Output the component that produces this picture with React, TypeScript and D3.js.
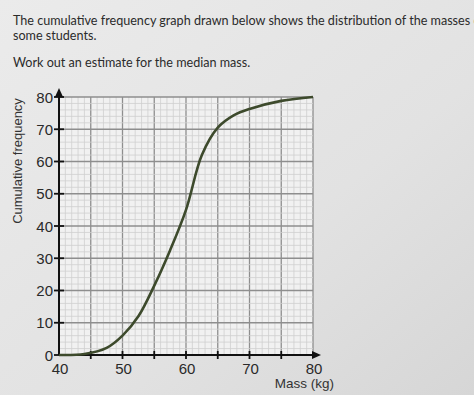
import React, { useEffect, useRef } from 'react';
import * as d3 from 'd3';

// cumulative frequency
const masses = [40, 44, 47.5, 50, 52.5, 55, 57.5, 60, 62.5, 65, 67.5, 70, 75, 80];
const cumFreq = [0, 0.3, 2.2, 6, 12, 21.5, 32.5, 45, 62, 70.5, 74.3, 76.3, 78.8, 80];
const xTicks = [40, 50, 60, 70, 80];
const yTicks = [0, 10, 20, 30, 40, 50, 60, 70, 80];

const questionLines = [
  'The cumulative frequency graph drawn below shows the distribution of the masses of',
  'some students.',
];
const questionAsk = 'Work out an estimate for the median mass.';

const W = 474;
const H = 395;

export default function App() {
  const ref = useRef<SVGSVGElement>(null);

  useEffect(() => {
    const svg = d3.select(ref.current);
    svg.selectAll('*').remove();

    const defs = svg.append('defs');
    const grad = defs.append('linearGradient').attr('id', 'bg').attr('x1', 0).attr('y1', 0).attr('x2', 1).attr('y2', 1);
    grad.append('stop').attr('offset', '0%').attr('stop-color', '#ebebeb');
    grad.append('stop').attr('offset', '60%').attr('stop-color', '#e2e2e2');
    grad.append('stop').attr('offset', '100%').attr('stop-color', '#d6d6d6');

    svg.append('rect').attr('width', W).attr('height', H).attr('fill', 'url(#bg)');

    const x = d3.scaleLinear().domain([40, 80]).range([59, 313]);
    const y = d3.scaleLinear().domain([0, 80]).range([355, 97]);

    // grid paper
    svg.append('rect')
      .attr('x', x(40)).attr('y', y(80))
      .attr('width', x(80) - x(40)).attr('height', y(0) - y(80))
      .attr('fill', '#f1f1f1');

    const g = svg.append('g');
    d3.range(40, 80.01, 1).forEach(v => {
      const major = v % 5 === 0;
      g.append('line')
        .attr('x1', x(v)).attr('x2', x(v)).attr('y1', y(0)).attr('y2', y(80))
        .attr('stroke', major ? '#8e8e8e' : '#cfcfcf')
        .attr('stroke-width', major ? 1.3 : 0.8);
    });
    d3.range(0, 80.01, 2).forEach(v => {
      const major = v % 10 === 0;
      g.append('line')
        .attr('x1', x(40)).attr('x2', x(80)).attr('y1', y(v)).attr('y2', y(v))
        .attr('stroke', major ? '#8e8e8e' : '#cfcfcf')
        .attr('stroke-width', major ? 1.3 : 0.8);
    });

    // axes with arrows
    svg.append('line').attr('x1', x(40)).attr('x2', x(40)).attr('y1', y(0)).attr('y2', y(80) - 3)
      .attr('stroke', '#111').attr('stroke-width', 2);
    svg.append('path')
      .attr('d', `M${x(40)},${y(80) - 9} l-4,9 l8,0 z`).attr('fill', '#111');
    svg.append('line').attr('x1', x(40)).attr('x2', x(80) + 3).attr('y1', y(0)).attr('y2', y(0))
      .attr('stroke', '#111').attr('stroke-width', 2);
    svg.append('path')
      .attr('d', `M${x(80) + 8},${y(0)} l-9,-4 l0,8 z`).attr('fill', '#111');

    // ticks
    yTicks.forEach(v => {
      svg.append('line').attr('x1', x(40) - 5).attr('x2', x(40) + 5).attr('y1', y(v)).attr('y2', y(v))
        .attr('stroke', '#111').attr('stroke-width', 1.8);
      svg.append('text').attr('x', x(40) - 6).attr('y', y(v) + 5.5)
        .attr('text-anchor', 'end').attr('font-family', 'Liberation Sans, Arial, sans-serif')
        .attr('font-size', 15).attr('fill', '#2a2a2a').text(v);
    });
    d3.range(45, 80, 5).forEach(v => {
      svg.append('line').attr('x1', x(v)).attr('x2', x(v)).attr('y1', y(0) - 4).attr('y2', y(0) + 4)
        .attr('stroke', '#111').attr('stroke-width', 1.8);
    });
    xTicks.forEach(v => {
      svg.append('text').attr('x', x(v) + 1).attr('y', y(0) + 19)
        .attr('text-anchor', 'middle').attr('font-family', 'Liberation Sans, Arial, sans-serif')
        .attr('font-size', 15).attr('fill', '#2a2a2a').text(v);
    });

    svg.append('text').attr('x', 334).attr('y', 388).attr('text-anchor', 'end')
      .attr('font-family', 'Liberation Sans, Arial, sans-serif').attr('font-size', 13.5)
      .attr('fill', '#333').text('Mass (kg)');
    svg.append('text')
      .attr('transform', `translate(22,161) rotate(-90)`)
      .attr('text-anchor', 'middle')
      .attr('font-family', 'Liberation Sans, Arial, sans-serif').attr('font-size', 13)
      .attr('fill', '#333').text('Cumulative frequency');

    // curve
    const line = d3.line<number>()
      .x((_, i) => x(masses[i]))
      .y(d => y(d))
      .curve(d3.curveCatmullRom.alpha(0.5));
    svg.append('path').attr('d', line(cumFreq))
      .attr('fill', 'none').attr('stroke', '#3d4a2c').attr('stroke-width', 2.6);

    // question text
    const t = svg.append('g').attr('font-family', 'Lato, sans-serif').attr('font-size', 12.6).attr('fill', '#2b2b2b');
    questionLines.forEach((s, i) => {
      t.append('text').attr('x', 13).attr('y', 25 + i * 15).text(s);
    });
    t.append('text').attr('x', 13).attr('y', 67).text(questionAsk);
  }, []);

  return <svg ref={ref} width={W} height={H} style={{ display: 'block', position: 'absolute', left: 0, top: 0 }} />;
}
